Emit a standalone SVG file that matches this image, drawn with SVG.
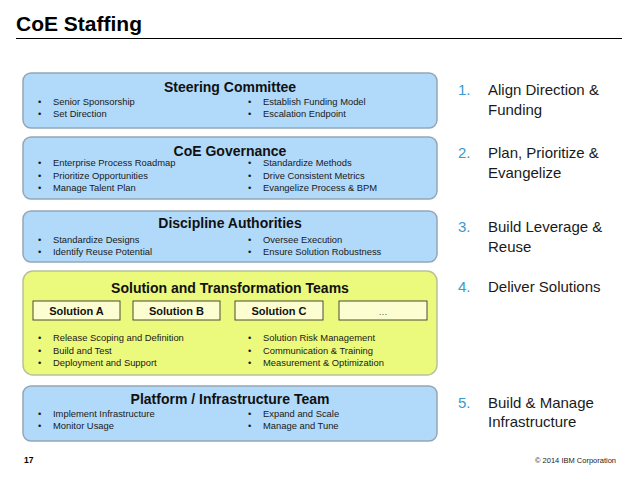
<svg xmlns="http://www.w3.org/2000/svg" width="638" height="479" viewBox="0 0 638 479">
<style>
text{font-family:"Liberation Sans",Arial,sans-serif;}
.box{fill:#b1d9f9;stroke:#94a6b6;stroke-width:1.5;}
.ybox{fill:#ebf97c;stroke:#b7c29a;stroke-width:1.5;}
.sub{fill:#fdfdd2;stroke:#4a4a3a;stroke-width:1;}
.t{font-size:14px;font-weight:bold;fill:#111;text-anchor:middle;}
.b{font-size:9.4px;fill:#1a1a1a;}
.st{font-size:11px;font-weight:bold;fill:#111;text-anchor:middle;}
.n{font-size:15px;fill:#3b98d3;}
.r{font-size:15px;fill:#1a1a1a;}
</style>
<rect width="638" height="479" fill="#ffffff"/>
<text x="16" y="31" font-size="21" font-weight="bold" fill="#000">CoE Staffing</text>
<line x1="16" y1="38.5" x2="622" y2="38.5" stroke="#000" stroke-width="1.2"/>

<g id="steering">
<rect class="box" x="23" y="73" width="414" height="55" rx="8"/>
<text class="t" x="230" y="92">Steering Committee</text>
<text class="b" x="38" y="105">•</text><text class="b" x="53" y="105">Senior Sponsorship</text>
<text class="b" x="38" y="117">•</text><text class="b" x="53" y="117">Set Direction</text>
<text class="b" x="248" y="105">•</text><text class="b" x="263" y="105">Establish Funding Model</text>
<text class="b" x="248" y="117">•</text><text class="b" x="263" y="117">Escalation Endpoint</text>
</g>

<g id="governance">
<rect class="box" x="23" y="137" width="414" height="62" rx="8"/>
<text class="t" x="230" y="155.5">CoE Governance</text>
<text class="b" x="38" y="166">•</text><text class="b" x="53" y="166">Enterprise Process Roadmap</text>
<text class="b" x="38" y="178.5">•</text><text class="b" x="53" y="178.5">Prioritize Opportunities</text>
<text class="b" x="38" y="191">•</text><text class="b" x="53" y="191">Manage Talent Plan</text>
<text class="b" x="248" y="166">•</text><text class="b" x="263" y="166">Standardize Methods</text>
<text class="b" x="248" y="178.5">•</text><text class="b" x="263" y="178.5">Drive Consistent Metrics</text>
<text class="b" x="248" y="191">•</text><text class="b" x="263" y="191">Evangelize Process &amp; BPM</text>
</g>

<g id="discipline">
<rect class="box" x="23" y="211" width="414" height="51" rx="8"/>
<text class="t" x="230" y="228">Discipline Authorities</text>
<text class="b" x="38" y="243">•</text><text class="b" x="53" y="243">Standardize Designs</text>
<text class="b" x="38" y="254.5">•</text><text class="b" x="53" y="254.5">Identify Reuse Potential</text>
<text class="b" x="248" y="243">•</text><text class="b" x="263" y="243">Oversee Execution</text>
<text class="b" x="248" y="254.5">•</text><text class="b" x="263" y="254.5">Ensure Solution Robustness</text>
</g>

<g id="solution">
<rect class="ybox" x="23" y="271" width="414" height="104" rx="10"/>
<text class="t" x="230" y="292.5">Solution and Transformation Teams</text>
<rect class="sub" x="33" y="301" width="87" height="19"/>
<text class="st" x="76.5" y="315">Solution A</text>
<rect class="sub" x="133" y="301" width="87" height="19"/>
<text class="st" x="176.5" y="315">Solution B</text>
<rect class="sub" x="235" y="301" width="88" height="19"/>
<text class="st" x="279" y="315">Solution C</text>
<rect class="sub" x="339" y="301" width="88" height="19"/>
<text x="383" y="315" font-size="9" fill="#555" text-anchor="middle">…</text>
<text class="b" x="38" y="341">•</text><text class="b" x="53" y="341">Release Scoping and Definition</text>
<text class="b" x="38" y="353.5">•</text><text class="b" x="53" y="353.5">Build and Test</text>
<text class="b" x="38" y="366">•</text><text class="b" x="53" y="366">Deployment and Support</text>
<text class="b" x="248" y="341">•</text><text class="b" x="263" y="341">Solution Risk Management</text>
<text class="b" x="248" y="353.5">•</text><text class="b" x="263" y="353.5">Communication &amp; Training</text>
<text class="b" x="248" y="366">•</text><text class="b" x="263" y="366">Measurement &amp; Optimization</text>
</g>

<g id="platform">
<rect class="box" x="23" y="386" width="414" height="55" rx="8"/>
<text class="t" x="230" y="404">Platform / Infrastructure Team</text>
<text class="b" x="38" y="417">•</text><text class="b" x="53" y="417">Implement Infrastructure</text>
<text class="b" x="38" y="428.5">•</text><text class="b" x="53" y="428.5">Monitor Usage</text>
<text class="b" x="248" y="417">•</text><text class="b" x="263" y="417">Expand and Scale</text>
<text class="b" x="248" y="428.5">•</text><text class="b" x="263" y="428.5">Manage and Tune</text>
</g>

<g id="steps">
<text class="n" x="458" y="95">1.</text><text class="r" x="488" y="95">Align Direction &amp;</text>
<text class="r" x="488" y="115">Funding</text>
<text class="n" x="458" y="158">2.</text><text class="r" x="488" y="158">Plan, Prioritize &amp;</text>
<text class="r" x="488" y="178">Evangelize</text>
<text class="n" x="458" y="232">3.</text><text class="r" x="488" y="232">Build Leverage &amp;</text>
<text class="r" x="488" y="252">Reuse</text>
<text class="n" x="458" y="292">4.</text><text class="r" x="488" y="292">Deliver Solutions</text>
<text class="n" x="458" y="408">5.</text><text class="r" x="488" y="408">Build &amp; Manage</text>
<text class="r" x="488" y="427">Infrastructure</text>
</g>

<text x="24" y="463" font-size="8.5" font-weight="bold" fill="#000">17</text>
<text x="535" y="463" font-size="7.5" fill="#222">© 2014 IBM Corporation</text>
</svg>
